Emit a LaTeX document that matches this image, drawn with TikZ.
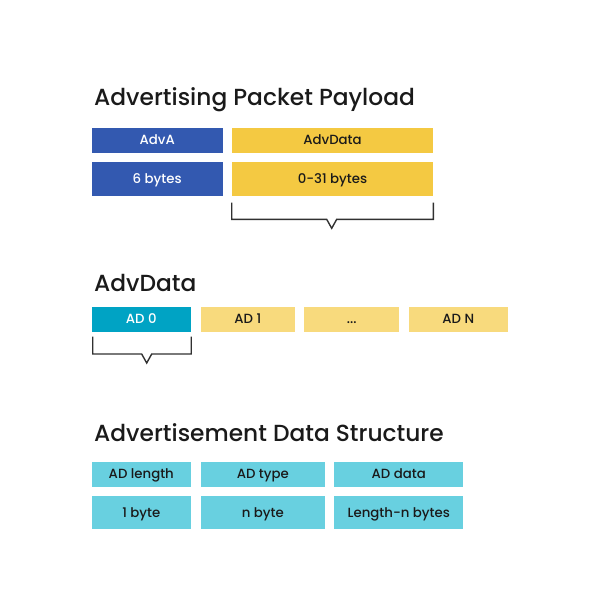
\documentclass[tikz,border=0pt]{standalone}
\usepackage{fontspec}
\setmainfont{Poppins}[UprightFont={* Medium}]
\usepackage{tikz}
\usetikzlibrary{calc}
\usepackage{xcolor}
\definecolor{advblue}{RGB}{51,89,176}
\definecolor{advyellow}{RGB}{244,201,66}
\definecolor{adyellow}{RGB}{248,218,125}
\definecolor{adteal}{RGB}{0,163,196}
\definecolor{adcyan}{RGB}{104,208,224}
\definecolor{inkdark}{RGB}{26,26,26}
\begin{document}
\begin{tikzpicture}[x=1pt,y=-1pt,
  title/.style={anchor=base west,inner sep=0pt,text=inkdark,font=\fontsize{23.3}{26}\selectfont},
  field/.style={inner sep=0pt,text height=9.4pt,text depth=0.4pt,font=\fontsize{13.3}{15}\selectfont,text=inkdark},
  brace/.style={draw=inkdark!90,line width=1.4pt,line join=miter}]
  \useasboundingbox (0,0) rectangle (600,606);
  % advertising packet payload
  \node[title] (tPayload) at (94,105) {Advertising Packet Payload};
  \node[field,fill=advblue,text=white,minimum width=131,minimum height=25] (advA) at (157.2,140.2) {AdvA};
  \node[field,fill=advblue,text=white,minimum width=131,minimum height=34.3] (advALen) at (157.2,178.8) {6 bytes};
  \node[field,fill=advyellow,minimum width=201.6,minimum height=25] (advData) at (332.5,140.2) {AdvData};
  \node[field,fill=advyellow,minimum width=201.6,minimum height=34.3] (advDataLen) at (332.5,178.8) {0-31 bytes};
  \coordinate (pA) at (231.7,202.7);
  \coordinate (pB) at (433.3,202.7);
  \draw[brace] (pA) -- (231.7,219.3) -- (326.7,219.3) -- (331.7,228.3) -- (336.7,219.3) -- (433.3,219.3) -- (pB);
  % advdata
  \node[title] (tAdvData) at (94,291.7) {AdvData};
  \node[field,fill=adteal,text=white,minimum width=99.3,minimum height=25] (ad0) at (141.3,319.2) {AD 0};
  \node[field,fill=adyellow,minimum width=94.3,minimum height=25] (ad1) at (247.8,319.2) {AD 1};
  \node[field,fill=adyellow,minimum width=95,minimum height=25] (adDots) at (351.8,319.2) {...};
  \node[field,fill=adyellow,minimum width=98.7,minimum height=25] (adN) at (458.3,319.2) {AD N};
  \coordinate (pC) at (92.7,336.7);
  \coordinate (pD) at (191.2,336.7);
  \draw[brace] (pC) -- (92.7,354) -- (141.7,354) -- (146.7,363) -- (151.7,354) -- (191.2,354) -- (pD);
  % advertisement data structure
  \node[title] (tStruct) at (94,441.7) {Advertisement Data Structure};
  \node[field,fill=adcyan,minimum width=99.3,minimum height=25] (adLen) at (141.3,474.2) {AD length};
  \node[field,fill=adcyan,minimum width=124.3,minimum height=25] (adType) at (262.8,474.2) {AD type};
  \node[field,fill=adcyan,minimum width=129,minimum height=25] (adData) at (398.8,474.2) {AD data};
  \node[field,fill=adcyan,minimum width=99.3,minimum height=33.3] (adLenSz) at (141.3,512.7) {1 byte};
  \node[field,fill=adcyan,minimum width=124.3,minimum height=33.3] (adTypeSz) at (262.8,512.7) {n byte};
  \node[field,fill=adcyan,minimum width=129,minimum height=33.3] (adDataSz) at (398.8,512.7) {Length-n bytes};
\end{tikzpicture}
\end{document}
